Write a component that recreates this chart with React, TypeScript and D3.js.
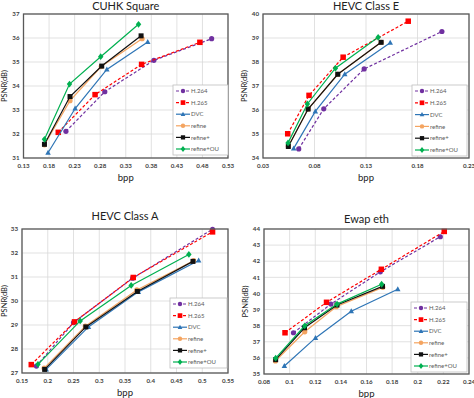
import React from "react";
import * as d3 from "d3";

type Pt = [number, number];

// ---- Panel 1: CUHK Square
const cuhkH264: Pt[] = [[0.213, 32.11], [0.289, 33.76], [0.385, 35.07], [0.498, 35.97]];
const cuhkH265: Pt[] = [[0.198, 32.07], [0.27, 33.64], [0.361, 34.9], [0.475, 35.82]];
const cuhkDVC: Pt[] = [[0.178, 31.22], [0.231, 33.06], [0.293, 34.69], [0.373, 35.83]];
const cuhkRefine: Pt[] = [[0.171, 31.55], [0.221, 33.39], [0.282, 34.81], [0.362, 35.97]];
const cuhkRefinePlus: Pt[] = [[0.171, 31.57], [0.221, 33.56], [0.283, 34.83], [0.36, 36.09]];
const cuhkRefineOU: Pt[] = [[0.171, 31.78], [0.22, 34.08], [0.281, 35.22], [0.355, 36.57]];

// ---- Panel 2: HEVC Class E
const classEH264: Pt[] = [[0.0647, 34.38], [0.089, 36.05], [0.1282, 37.71], [0.2037, 39.27]];
const classEH265: Pt[] = [[0.054, 35.01], [0.0747, 36.61], [0.1078, 38.2], [0.171, 39.7]];
const classEDVC: Pt[] = [[0.0598, 34.4], [0.0808, 35.94], [0.1094, 37.49], [0.1535, 38.8]];
const classERefine: Pt[] = [[0.0546, 34.49], [0.0738, 36.04], [0.1026, 37.49], [0.1447, 38.82]];
const classERefinePlus: Pt[] = [[0.0546, 34.48], [0.0738, 36.04], [0.1026, 37.49], [0.1447, 38.82]];
const classERefineOU: Pt[] = [[0.0543, 34.63], [0.0731, 36.25], [0.1003, 37.74], [0.1418, 39.03]];

// ---- Panel 3: HEVC Class A
const classAH264: Pt[] = [[0.178, 27.29], [0.25, 29.1], [0.365, 30.95], [0.52, 32.99]];
const classAH265: Pt[] = [[0.168, 27.35], [0.252, 29.13], [0.366, 30.98], [0.52, 32.88]];
const classADVC: Pt[] = [[0.197, 27.15], [0.279, 28.92], [0.376, 30.38], [0.493, 31.69]];
const classARefine: Pt[] = [[0.193, 27.2], [0.273, 28.95], [0.373, 30.46], [0.483, 31.68]];
const classARefinePlus: Pt[] = [[0.194, 27.15], [0.274, 28.92], [0.374, 30.4], [0.482, 31.65]];
const classARefineOU: Pt[] = [[0.181, 27.36], [0.263, 29.17], [0.362, 30.65], [0.474, 31.94]];

// ---- Panel 4: Ewap eth
const ewapH264: Pt[] = [[0.103, 37.56], [0.1322, 39.34], [0.1708, 41.34], [0.2176, 43.52]];
const ewapH265: Pt[] = [[0.0964, 37.56], [0.1288, 39.45], [0.1716, 41.5], [0.2207, 43.85]];
const ewapDVC: Pt[] = [[0.0959, 35.5], [0.1202, 37.24], [0.1481, 38.89], [0.1844, 40.26]];
const ewapRefine: Pt[] = [[0.0889, 35.81], [0.1118, 37.62], [0.1364, 39.18], [0.1727, 40.38]];
const ewapRefinePlus: Pt[] = [[0.0891, 35.89], [0.1116, 37.87], [0.137, 39.28], [0.1725, 40.44]];
const ewapRefineOU: Pt[] = [[0.0891, 35.98], [0.1118, 37.99], [0.137, 39.34], [0.1718, 40.57]];

const seriesNames = ["H.264", "H.265", "DVC", "refine", "refine+", "refine+OU"];

const cuhkXTicks = [0.13, 0.18, 0.23, 0.28, 0.33, 0.38, 0.43, 0.48, 0.53];
const cuhkYTicks = [31, 32, 33, 34, 35, 36, 37];
const classEXTicks = [0.03, 0.08, 0.13, 0.18, 0.23];
const classEYTicks = [34, 35, 36, 37, 38, 39, 40];
const classAXTicks = [0.15, 0.2, 0.25, 0.3, 0.35, 0.4, 0.45, 0.5, 0.55];
const classAYTicks = [27, 28, 29, 30, 31, 32, 33];
const ewapXTicks = [0.08, 0.1, 0.12, 0.14, 0.16, 0.18, 0.2, 0.22, 0.24];
const ewapYTicks = [35, 36, 37, 38, 39, 40, 41, 42, 43, 44];

type Style = { color: string; dash?: string; marker: "circle" | "square" | "triangle" | "diamond"; size: number };
const styles: Style[] = [
  { color: "#7030A0", dash: "3,2", marker: "circle", size: 2.6 },
  { color: "#FF0000", dash: "3,2", marker: "square", size: 5.5 },
  { color: "#2E75B6", marker: "triangle", size: 5 },
  { color: "#F4A460", marker: "circle", size: 2.6 },
  { color: "#111111", marker: "square", size: 5 },
  { color: "#00B050", marker: "diamond", size: 3.4 },
];

const FONT = "Lato, 'Open Sans', 'Liberation Sans', sans-serif";

function Marker({ x, y, s }: { x: number; y: number; s: Style }) {
  const z = s.size;
  if (s.marker === "circle") return <circle cx={x} cy={y} r={z} fill={s.color} />;
  if (s.marker === "square")
    return <rect x={x - z / 2} y={y - z / 2} width={z} height={z} fill={s.color} />;
  if (s.marker === "triangle")
    return <path d={`M${x},${y - z * 0.6}L${x + z * 0.55},${y + z * 0.4}L${x - z * 0.55},${y + z * 0.4}Z`} fill={s.color} />;
  return <path d={`M${x},${y - z}L${x + z * 0.8},${y}L${x},${y + z}L${x - z * 0.8},${y}Z`} fill={s.color} />;
}

type PanelProps = {
  title: string;
  left: number; right: number; top: number; bottom: number;
  xTicks: number[]; yTicks: number[];
  series: Pt[][];
  legend: { x: number; y: number; w: number; h: number };
  titleY: number;
  ylabelX: number;
};

function Panel(p: PanelProps) {
  const x = d3.scaleLinear().domain([p.xTicks[0], p.xTicks[p.xTicks.length - 1]]).range([p.left, p.right]);
  const y = d3.scaleLinear().domain([p.yTicks[0], p.yTicks[p.yTicks.length - 1]]).range([p.bottom, p.top]);
  const line = d3.line<Pt>().x((d) => x(d[0])).y((d) => y(d[1]));
  const cx = (p.left + p.right) / 2;
  const cy = (p.top + p.bottom) / 2;
  const rowH = (p.legend.h - 12) / 5;
  return (
    <g>
      <text x={cx} y={p.titleY} textAnchor="middle" fontSize={11} fill="#222" fontFamily={FONT}>{p.title}</text>
      {p.xTicks.map((t) => (
        <line key={"gx" + t} x1={x(t)} x2={x(t)} y1={p.top} y2={p.bottom} stroke="#d9d9d9" strokeWidth={0.8} />
      ))}
      {p.yTicks.map((t) => (
        <line key={"gy" + t} x1={p.left} x2={p.right} y1={y(t)} y2={y(t)} stroke="#d9d9d9" strokeWidth={0.8} />
      ))}
      {p.xTicks.map((t) => (
        <text key={"tx" + t} x={x(t)} y={p.bottom + 10} textAnchor="middle" fontSize={6.2} fontWeight={700} fill="#404040" fontFamily={FONT}>{String(t)}</text>
      ))}
      {p.yTicks.map((t) => (
        <text key={"ty" + t} x={p.left - 4} y={y(t) + 2.2} textAnchor="end" fontSize={6.2} fontWeight={700} fill="#404040" fontFamily={FONT}>{String(t)}</text>
      ))}
      <text x={cx} y={p.bottom + 23} textAnchor="middle" fontSize={9.5} fill="#222" fontFamily={FONT}>bpp</text>
      <text transform={`translate(${p.ylabelX},${cy}) rotate(-90)`} textAnchor="middle" fontSize={7.5} fill="#222" fontFamily={FONT}>PSNR(dB)</text>
      {p.series.map((s, i) => (
        <g key={"s" + i}>
          <path d={line(s) || ""} fill="none" stroke={styles[i].color} strokeWidth={1.2} strokeDasharray={styles[i].dash} />
          {s.map((d, j) => (
            <Marker key={j} x={x(d[0])} y={y(d[1])} s={styles[i]} />
          ))}
        </g>
      ))}
      <rect x={p.left} y={p.top} width={p.right - p.left} height={p.bottom - p.top} fill="none" stroke="#595959" strokeWidth={1.3} />
      <rect x={p.legend.x} y={p.legend.y} width={p.legend.w} height={p.legend.h} fill="#fff" stroke="#bfbfbf" strokeWidth={0.8} />
      {seriesNames.map((n, i) => {
        const ly = p.legend.y + 6 + i * rowH;
        const lx = p.legend.x + 3;
        return (
          <g key={"l" + i}>
            <line x1={lx} x2={lx + 14} y1={ly} y2={ly} stroke={styles[i].color} strokeWidth={1.2} strokeDasharray={styles[i].dash} />
            <Marker x={lx + 7} y={ly} s={{ ...styles[i], size: styles[i].size * 0.85 }} />
            <text x={lx + 15} y={ly + 2.1} fontSize={6} fill="#595959" fontFamily={FONT}>{n}</text>
          </g>
        );
      })}
    </g>
  );
}

export default function App() {
  return (
    <svg width={474} height={398} style={{ position: "absolute", left: 0, top: 0, background: "#fff" }}>
      <rect width={474} height={398} fill="#fff" />
      <Panel title="CUHK Square" left={23.5} right={228} top={14} bottom={158} titleY={9.5} ylabelX={7}
        xTicks={cuhkXTicks} yTicks={cuhkYTicks}
        series={[cuhkH264, cuhkH265, cuhkDVC, cuhkRefine, cuhkRefinePlus, cuhkRefineOU]}
        legend={{ x: 173, y: 85, w: 55, h: 70 }} />
      <Panel title="HEVC Class E" left={263} right={469} top={14} bottom={158} titleY={9.5} ylabelX={247}
        xTicks={classEXTicks} yTicks={classEYTicks}
        series={[classEH264, classEH265, classEDVC, classERefine, classERefinePlus, classERefineOU]}
        legend={{ x: 412, y: 85, w: 55, h: 71 }} />
      <Panel title="HEVC Class A" left={22} right={228} top={229} bottom={373} titleY={220} ylabelX={7}
        xTicks={classAXTicks} yTicks={classAYTicks}
        series={[classAH264, classAH265, classADVC, classARefine, classARefinePlus, classARefineOU]}
        legend={{ x: 170, y: 298, w: 57, h: 70 }} />
      <Panel title="Ewap eth" left={264} right={469} top={229} bottom={374} titleY={223} ylabelX={248}
        xTicks={ewapXTicks} yTicks={ewapYTicks}
        series={[ewapH264, ewapH265, ewapDVC, ewapRefine, ewapRefinePlus, ewapRefineOU]}
        legend={{ x: 411, y: 302, w: 56, h: 70 }} />
    </svg>
  );
}
